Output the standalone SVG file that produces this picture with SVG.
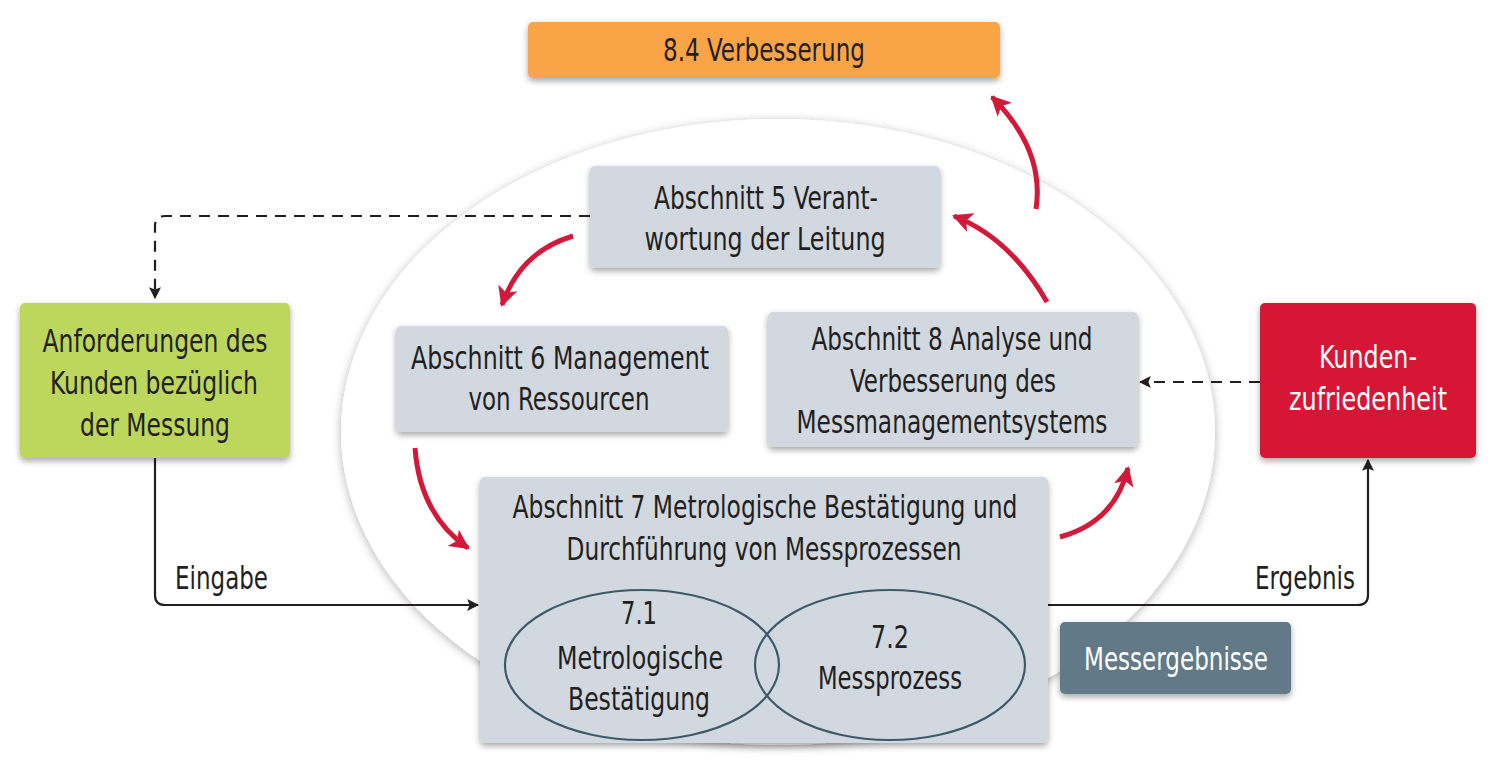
<svg xmlns="http://www.w3.org/2000/svg" width="1500" height="765" viewBox="0 0 1500 765">
<defs>
<filter id="sh" x="-10%" y="-10%" width="120%" height="130%">
<feDropShadow dx="0" dy="3" stdDeviation="3" flood-color="#000" flood-opacity="0.35"/>
</filter>
<filter id="esh" x="-10%" y="-10%" width="120%" height="120%">
<feDropShadow dx="0" dy="2" stdDeviation="5" flood-color="#000" flood-opacity="0.3"/>
</filter>
<marker id="ar" viewBox="0 0 10 10" refX="9" refY="5" markerWidth="20" markerHeight="20" markerUnits="userSpaceOnUse" orient="auto">
<path d="M0,0 L10,5 L0,10 L2.5,5 Z" fill="#D3193A"/>
</marker>
<marker id="ak" viewBox="0 0 10 10" refX="9" refY="5" markerWidth="12" markerHeight="12" markerUnits="userSpaceOnUse" orient="auto">
<path d="M0,0 L10,5 L0,10 L2,5 Z" fill="#231F20"/>
</marker>
</defs>
<style>
text{font-family:"DejaVu Sans Condensed","Liberation Sans",sans-serif;font-size:32px;fill:#231F20;text-anchor:middle}
.w{fill:#fff}
.gb{fill:#D1D8DF;filter:url(#sh)}
.red{fill:none;stroke:#D3193A;stroke-width:5;marker-end:url(#ar)}
.blk{fill:none;stroke:#231F20;stroke-width:2.2}
.dsh{fill:none;stroke:#231F20;stroke-width:2.2;stroke-dasharray:11 8}
.ve{fill:none;stroke:#3D5A66;stroke-width:2.2}
</style>
<rect width="1500" height="765" fill="#fff"/>
<ellipse cx="778" cy="432" rx="437" ry="313" fill="#fff" filter="url(#esh)"/>

<g id="connectors">
<path class="dsh" d="M590,216 H165 Q155,216 155,226 V298" marker-end="url(#ak)"/>
<path class="blk" d="M155,458 V595 Q155,605 165,605 H478" marker-end="url(#ak)"/>
<path class="blk" d="M1048,605 H1358 Q1368,605 1368,595 V460" marker-end="url(#ak)"/>
<path class="dsh" d="M1260,382 H1140" marker-end="url(#ak)"/>
<path class="red" d="M573,236 Q520,252 502,305"/>
<path class="red" d="M415,448 Q420,515 468,548"/>
<path class="red" d="M1060,537 Q1115,522 1128,468"/>
<path class="red" d="M1047,302 Q1010,238 954,216"/>
<path class="red" d="M1036,209 Q1045,150 992,97"/>
<text x="175" y="589" style="text-anchor:start" textLength="93" lengthAdjust="spacingAndGlyphs">Eingabe</text>
<text x="1255" y="589" style="text-anchor:start" textLength="100" lengthAdjust="spacingAndGlyphs">Ergebnis</text>
</g>

<g id="n84">
<rect x="528" y="22" width="472" height="56" rx="5" fill="#F9A547" filter="url(#sh)"/>
<text x="764" y="61" textLength="202" lengthAdjust="spacingAndGlyphs">8.4 Verbesserung</text>
</g>
<g id="n5">
<rect class="gb" x="590" y="166" width="350" height="102" rx="5"/>
<text x="766" y="209" textLength="224" lengthAdjust="spacingAndGlyphs">Abschnitt 5 Verant-</text>
<text x="765" y="250" textLength="241" lengthAdjust="spacingAndGlyphs">wortung der Leitung</text>
</g>
<g id="n6">
<rect class="gb" x="396" y="326" width="332" height="106" rx="5"/>
<text x="560" y="369" textLength="298" lengthAdjust="spacingAndGlyphs">Abschnitt 6 Management</text>
<text x="559" y="410" textLength="181" lengthAdjust="spacingAndGlyphs">von Ressourcen</text>
</g>
<g id="n8">
<rect class="gb" x="768" y="312" width="370" height="135" rx="5"/>
<text x="952" y="350" textLength="281" lengthAdjust="spacingAndGlyphs">Abschnitt 8 Analyse und</text>
<text x="953" y="392" textLength="206" lengthAdjust="spacingAndGlyphs">Verbesserung des</text>
<text x="952" y="433" textLength="311" lengthAdjust="spacingAndGlyphs">Messmanagementsystems</text>
</g>
<g id="n7">
<rect class="gb" x="480" y="477" width="568" height="266" rx="5"/>
<text x="765" y="518" textLength="505" lengthAdjust="spacingAndGlyphs">Abschnitt 7 Metrologische Bestätigung und</text>
<text x="764" y="560" textLength="395" lengthAdjust="spacingAndGlyphs">Durchführung von Messprozessen</text>
<ellipse class="ve" cx="642" cy="665" rx="137" ry="75"/>
<ellipse class="ve" cx="890" cy="665" rx="135" ry="75"/>
<text x="639" y="624" textLength="36" lengthAdjust="spacingAndGlyphs">7.1</text>
<text x="640" y="669" textLength="166" lengthAdjust="spacingAndGlyphs">Metrologische</text>
<text x="639" y="710" textLength="142" lengthAdjust="spacingAndGlyphs">Bestätigung</text>
<text x="890" y="648" textLength="38" lengthAdjust="spacingAndGlyphs">7.2</text>
<text x="890" y="689" textLength="144" lengthAdjust="spacingAndGlyphs">Messprozess</text>
</g>
<g id="nAnf">
<rect x="20" y="303" width="270" height="155" rx="5" fill="#BDD65B" filter="url(#sh)"/>
<text x="155" y="352" textLength="225" lengthAdjust="spacingAndGlyphs">Anforderungen des</text>
<text x="154" y="394" textLength="208" lengthAdjust="spacingAndGlyphs">Kunden bezüglich</text>
<text x="155" y="436" textLength="150" lengthAdjust="spacingAndGlyphs">der Messung</text>
</g>
<g id="nKZ">
<rect x="1260" y="303" width="216" height="155" rx="5" fill="#D71634" filter="url(#sh)"/>
<text class="w" x="1368" y="368" textLength="98" lengthAdjust="spacingAndGlyphs">Kunden-</text>
<text class="w" x="1368" y="410" textLength="158" lengthAdjust="spacingAndGlyphs">zufriedenheit</text>
</g>
<g id="nME">
<rect x="1060" y="622" width="231" height="72" rx="5" fill="#627987" filter="url(#sh)"/>
<text class="w" x="1176" y="670" textLength="184" lengthAdjust="spacingAndGlyphs">Messergebnisse</text>
</g>
</svg>
